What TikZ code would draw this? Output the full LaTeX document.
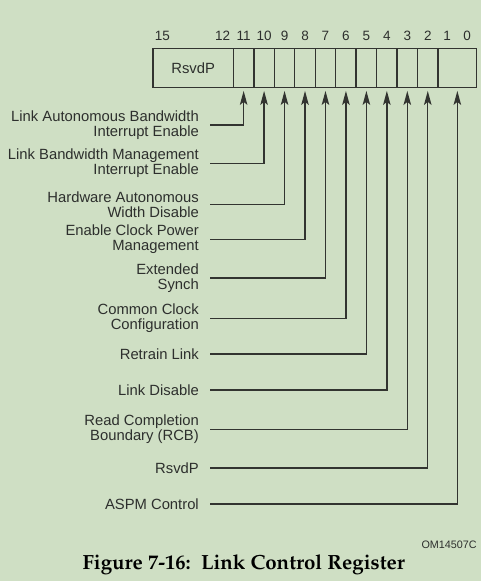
\documentclass[tikz,border=0pt]{standalone}
\usepackage[T1,TU]{fontenc}
\usepackage{fontspec}
\setmainfont{Liberation Sans}
\usetikzlibrary{arrows.meta}
\definecolor{bg}{RGB}{207,223,196}
\definecolor{ink}{RGB}{50,52,48}
\definecolor{txt}{RGB}{45,47,45}
\tikzset{
  lbl/.style={anchor=east, align=right, inner sep=0pt, text=txt,
              font=\fontsize{14.8}{14.8}\selectfont},
  bitnum/.style={inner sep=0pt, text=txt, font=\fontsize{13.5}{13.5}\selectfont},
  cell/.style={draw=ink, line width=1.4pt, minimum height=39pt, inner sep=0pt,
               anchor=north west, text=txt, font=\fontsize{14.8}{14.8}\selectfont},
  conn/.style={draw=ink, line width=1.3pt, shorten >=2.5pt,
               -{Stealth[length=14pt,width=7.5pt,inset=3pt]}},
}
\begin{document}
\begin{tikzpicture}[x=1pt,y=-1pt]
\fill[bg] (0,0) rectangle (481,581);
\useasboundingbox (0,0) rectangle (481,581);
% register cells
\node[cell, minimum width=80.4pt] (c15) at (152.3,48) {RsvdP};
\foreach \b [count=\i from 0] in {11,10,9,8,7,6,5,4,3,2} {
  \node[cell, minimum width=20.46pt] (c\b) at ({232.7+\i*20.46},48) {};
}
\node[cell, minimum width=38.7pt] (c1) at (437.3,48) {};
% bit numbers
\node[bitnum] (n15) at (162.4,36) {15};
\node[bitnum] (n12) at (222.6,36) {12};
\foreach \b in {11,10,9,8,7,6,5,4,3,2} {
  \node[bitnum] (n\b) at (c\b.center |- 0,36) {\b};
}
\node[bitnum] (n1) at (447,36) {1};
\node[bitnum] (n0) at (467,36) {0};
% labels
\node[lbl] (l11) at (199,125) {Link Autonomous Bandwidth\\Interrupt Enable};
\node[lbl] (l10) at (199,163.5) {Link Bandwidth Management\\Interrupt Enable};
\node[lbl] (l9) at (199,204.5) {Hardware Autonomous\\Width Disable};
\node[lbl] (l8) at (199,239.5) {Enable Clock Power\\Management};
\node[lbl] (l7) at (199,278) {Extended\\Synch};
\node[lbl] (l6) at (199,318.5) {Common Clock\\Configuration};
\node[lbl] (l5) at (199,354) {Retrain Link};
\node[lbl] (l4) at (199,390) {Link Disable};
\node[lbl] (l3) at (199,429.5) {Read Completion\\Boundary (RCB)};
\node[lbl] (l2) at (199,468) {RsvdP};
\node[lbl] (l1) at (199,504) {ASPM Control};
% connectors
\foreach \b in {11,10,9,8,7,6,5,4,3,2,1} {
  \draw[conn] ([xshift=11pt]l\b.east) -| (c\b.south);
}
% figure id and caption
\node[anchor=east, inner sep=0pt, text=txt, font=\fontsize{10.8}{11}\selectfont] (om) at (477,545) {OM14507C};
\node[inner sep=0pt, text=black, font=\fontencoding{T1}\fontfamily{ppl}\fontseries{b}\fontsize{20.5}{22}\selectfont] (cap) at (243.7,565) {Figure 7-16:\ \ Link Control Register};
\end{tikzpicture}
\end{document}
